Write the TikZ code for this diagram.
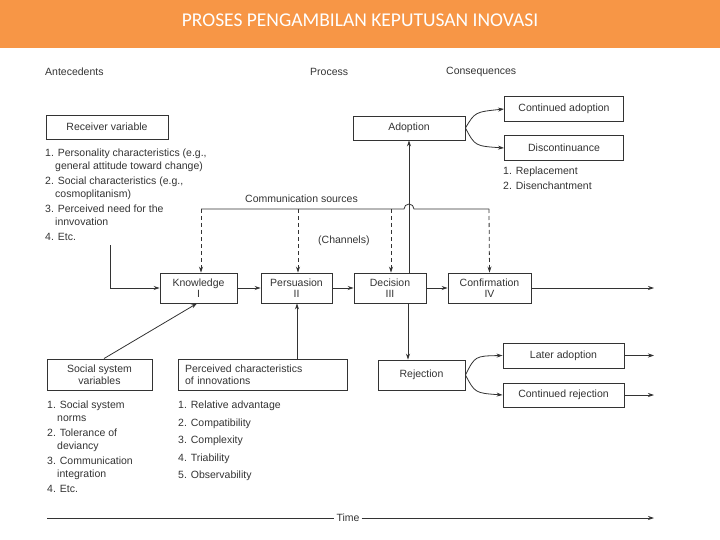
\documentclass[tikz,border=0pt]{standalone}
\usepackage{fontspec}
\setmainfont{Liberation Sans}
\newfontfamily\titlefont{Carlito}
\usetikzlibrary{arrows.meta}
\definecolor{barorange}{HTML}{F79646}
\definecolor{ink}{HTML}{333333}
\begin{document}
\begin{tikzpicture}[x=1pt,y=-1pt,
  box/.style={draw=ink,line width=0.9pt,inner sep=1pt,align=center,font=\fontsize{10.5}{11.5}\selectfont,text=ink},
  lbl/.style={inner sep=0pt,anchor=west,font=\fontsize{10.5}{12.5}\selectfont,text=ink,align=left},
  arr/.style={draw=ink,line width=0.8pt,-{Stealth[length=6pt,width=4pt]}},
  dsh/.style={arr,dashed,dash pattern=on 4pt off 3pt}]
\useasboundingbox (0,0) rectangle (720,540);
\fill[barorange] (0,0) rectangle (720,48);
\node[text=white,font=\titlefont\fontsize{19.5}{22}\selectfont] (title) at (360,20) {PROSES PENGAMBILAN KEPUTUSAN INOVASI};
% headings
\node[lbl] (ant) at (45,72) {Antecedents};
\node[lbl] (proc) at (310,72) {Process};
\node[lbl] (cons) at (446,72) {Consequences};
% boxes
\node[box,minimum width=122pt,minimum height=24pt] (recv) at (107,127) {Receiver variable};
\node[box,minimum width=112pt,minimum height=24pt] (adopt) at (409,128) {Adoption};
\node[box,minimum width=119pt,minimum height=25pt] (cadopt) at (564,109) {Continued adoption};
\node[box,minimum width=119pt,minimum height=25pt] (disc) at (564,148) {Discontinuance};
\node[box,minimum width=77pt,minimum height=30pt] (know) at (198.5,288) {Knowledge\\I};
\node[box,minimum width=71pt,minimum height=30pt] (pers) at (296.5,288) {Persuasion\\II};
\node[box,minimum width=72pt,minimum height=30pt] (dec) at (390,288) {Decision\\III};
\node[box,minimum width=83pt,minimum height=30pt] (conf) at (489.5,288) {Confirmation\\IV};
\node[box,minimum width=105pt,minimum height=31pt] (soc) at (99.5,374.5) {Social system\\variables};
\node[box,minimum width=169pt,minimum height=31pt,align=left,text width=155pt] (perc) at (262.5,374.5) {Perceived characteristics\\of innovations};
\node[box,minimum width=87pt,minimum height=30pt] (rej) at (421.5,375) {Rejection};
\node[box,minimum width=121pt,minimum height=25pt] (later) at (563.5,355.5) {Later adoption};
\node[box,minimum width=121pt,minimum height=24pt] (crej) at (563.5,395) {Continued rejection};
% lists
\node[lbl,anchor=north west] (l1) at (45,149) {1. Personality characteristics (e.g.,\\\hspace*{10pt}general attitude toward change)\\[3pt]2. Social characteristics (e.g.,\\\hspace*{10pt}cosmoplitanism)\\[3pt]3. Perceived need for the\\\hspace*{10pt}innvovation\\[3pt]4. Etc.};
\node[lbl,anchor=north west] (l2) at (503,167) {1. Replacement\\[2pt]2. Disenchantment};
\node[lbl,anchor=north west] (l3) at (47,401) {1. Social system\\\hspace*{10pt}norms\\[3pt]2. Tolerance of\\\hspace*{10pt}deviancy\\[3pt]3. Communication\\\hspace*{10pt}integration\\[3pt]4. Etc.};
\node[lbl,anchor=north west] (l4) at (178,401) {1. Relative advantage\\[5pt]2. Compatibility\\[5pt]3. Complexity\\[5pt]4. Triability\\[5pt]5. Observability};
\node[lbl] (comm) at (245,199) {Communication sources};
\node[lbl] (chan) at (318,241) {(Channels)};
% communication line with hump
\coordinate (c1) at (201,209);
\coordinate (c4) at (489,209);
\draw[draw=ink,line width=0.8pt] (c1) -- (404,209) arc[start angle=180,end angle=360,radius=5] -- (c4);
\draw[dsh] (201,209) -- (know.north -| 201,0);
\draw[dsh] (298,209) -- (pers.north -| 298,0);
\draw[dsh] (391,209) -- (dec.north -| 391,0);
\draw[dsh] (c4) -- (conf.north);
% process chain
\coordinate (rv) at (110,245);
\draw[arr] (rv) |- (know.west);
\draw[arr] (know) -- (pers);
\draw[arr] (pers) -- (dec);
\draw[arr] (dec) -- (conf);
\coordinate (cend) at (654,288);
\draw[arr] (conf) -- (cend);
\draw[arr] (dec.north -| adopt.south) -- (adopt.south);
\draw[arr] (dec.south -| 408,0) -- (rej.north -| 408,0);
\draw[arr] (soc.north -| 104,0) -- (know.south -| 197,0);
\draw[arr] (perc.north -| 297,0) -- (pers.south -| 297,0);
% branches
\draw[arr] (adopt.east) .. controls (475,112) .. (cadopt.west);
\draw[arr] (adopt.east) .. controls (475,146) .. (disc.west);
\draw[arr] (rej.east) .. controls (475,356) .. (later.west);
\draw[arr] (rej.east) .. controls (475,393) .. (crej.west);
\coordinate (le) at (654,355.5);
\coordinate (ce) at (654,395);
\draw[arr] (later) -- (le);
\draw[arr] (crej) -- (ce);
% time
\node[inner sep=2pt,font=\fontsize{10.5}{11}\selectfont,text=ink] (time) at (348,518) {Time};
\coordinate (t0) at (47,518);
\coordinate (t1) at (654,518);
\draw[draw=ink,line width=0.8pt] (t0) -- (time.west);
\draw[arr] (time.east) -- (t1);
\end{tikzpicture}
\end{document}
